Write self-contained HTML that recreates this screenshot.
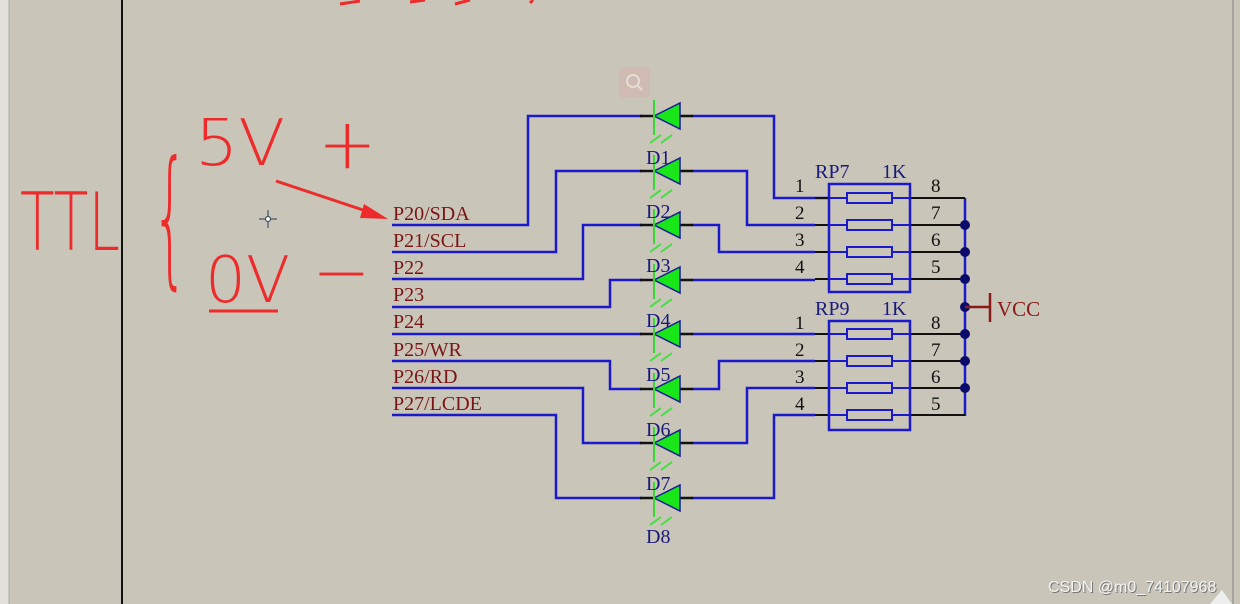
<!DOCTYPE html>
<html><head><meta charset="utf-8"><style>
html,body{margin:0;padding:0;width:1240px;height:604px;overflow:hidden;background:#c9c5b9}
svg{display:block}
</style></head><body>
<svg width="1240" height="604" viewBox="0 0 1240 604" xmlns="http://www.w3.org/2000/svg">
<defs>
<g id="d">
<line x1="640" y1="0" x2="656" y2="0" stroke="#111" stroke-width="2.5"/>
<line x1="679" y1="0" x2="693" y2="0" stroke="#111" stroke-width="2.5"/>
<polygon points="654,0 680,-13 680,13" fill="#19e619" stroke="#1a1a9a" stroke-width="1.5"/>
<line x1="654" y1="-16" x2="654" y2="19" stroke="#35d835" stroke-width="2"/>
<line x1="650" y1="27" x2="661" y2="19" stroke="#40e040" stroke-width="2"/>
<line x1="661" y1="27" x2="672" y2="19" stroke="#40e040" stroke-width="2"/>
</g>
<g id="r">
<line x1="815" y1="0" x2="965" y2="0" stroke="#111" stroke-width="2"/>
<line x1="828" y1="0" x2="910" y2="0" stroke="#1a1acc" stroke-width="2"/>
<rect x="847" y="-5" width="45" height="10" fill="#c9c5b9" stroke="#1a1acc" stroke-width="2"/>
</g>
</defs>
<rect x="0" y="0" width="9" height="604" fill="#e2e0da"/>
<line x1="9" y1="0" x2="9" y2="604" stroke="#aaa" stroke-width="1"/>
<line x1="122" y1="0" x2="122" y2="604" stroke="#111" stroke-width="2"/>
<line x1="1233" y1="0" x2="1233" y2="604" stroke="#999" stroke-width="1.5"/>

<!-- magnifier -->
<rect x="619" y="67" width="31" height="31" rx="4" fill="#d9aaa6" opacity="0.35"/>
<circle cx="633" cy="81" r="6" fill="none" stroke="#e6dcd8" stroke-width="2"/>
<line x1="637" y1="85" x2="642" y2="90" stroke="#e6dcd8" stroke-width="2"/>

<!-- wires -->
<g fill="none" stroke="#1a1acc" stroke-width="2.5">
<polyline points="392,225 528,225 528,116 642,116"/>
<polyline points="692,116 774,116 774,198 828,198"/>
<polyline points="392,252 556,252 556,171 642,171"/>
<polyline points="692,171 747,171 747,225 815,225"/>
<polyline points="392,279 583,279 583,225 642,225"/>
<polyline points="692,225 719,225 719,252 815,252"/>
<polyline points="392,307 610,307 610,280 642,280"/>
<polyline points="692,280 815,280"/>
<polyline points="392,334 642,334"/>
<polyline points="692,334 815,334"/>
<polyline points="392,361 610,361 610,389 642,389"/>
<polyline points="692,389 719,389 719,361 815,361"/>
<polyline points="392,388 583,388 583,443 642,443"/>
<polyline points="692,443 747,443 747,388 815,388"/>
<polyline points="392,415 556,415 556,498 642,498"/>
<polyline points="692,498 774,498 774,415 815,415"/>
<line x1="965" y1="198" x2="965" y2="416"/>
</g>

<use href="#d" y="116"/><use href="#d" y="171"/><use href="#d" y="225"/><use href="#d" y="280"/>
<use href="#d" y="334"/><use href="#d" y="389"/><use href="#d" y="443"/><use href="#d" y="498"/>

<g font-family="Liberation Serif, serif" font-size="20" fill="#1a1a7a">
<text x="646" y="164">D1</text><text x="646" y="218">D2</text><text x="646" y="272">D3</text>
<text x="646" y="327">D4</text><text x="646" y="381">D5</text><text x="646" y="436">D6</text>
<text x="646" y="490">D7</text><text x="646" y="543">D8</text>
</g>

<!-- resistor packs -->
<use href="#r" y="198"/><use href="#r" y="225"/><use href="#r" y="252"/><use href="#r" y="279"/>
<use href="#r" y="334"/><use href="#r" y="361"/><use href="#r" y="388"/><use href="#r" y="415"/>
<rect x="829" y="184" width="81" height="108" fill="none" stroke="#1a1acc" stroke-width="2.5"/>
<rect x="829" y="321" width="81" height="109" fill="none" stroke="#1a1acc" stroke-width="2.5"/>
<g fill="#0a0a6a">
<circle cx="965" cy="225" r="5"/><circle cx="965" cy="252" r="5"/><circle cx="965" cy="279" r="5"/>
<circle cx="965" cy="307" r="5"/><circle cx="965" cy="334" r="5"/><circle cx="965" cy="361" r="5"/>
<circle cx="965" cy="388" r="5"/>
</g>
<line x1="965" y1="307" x2="990" y2="307" stroke="#8a1a1a" stroke-width="2.5"/>
<line x1="990" y1="293" x2="990" y2="322" stroke="#8a1a1a" stroke-width="2.5"/>
<text x="997" y="316" font-family="Liberation Serif, serif" font-size="21" fill="#8a1a1a">VCC</text>

<g font-family="Liberation Serif, serif" font-size="20" fill="#1a1a7a">
<text x="815" y="178">RP7</text><text x="882" y="178">1K</text>
<text x="815" y="315">RP9</text><text x="882" y="315">1K</text>
</g>
<g font-family="Liberation Serif, serif" font-size="19" fill="#111">
<text x="795" y="192">1</text><text x="795" y="219">2</text><text x="795" y="246">3</text><text x="795" y="273">4</text>
<text x="931" y="192">8</text><text x="931" y="219">7</text><text x="931" y="246">6</text><text x="931" y="273">5</text>
<text x="795" y="329">1</text><text x="795" y="356">2</text><text x="795" y="383">3</text><text x="795" y="410">4</text>
<text x="931" y="329">8</text><text x="931" y="356">7</text><text x="931" y="383">6</text><text x="931" y="410">5</text>
</g>

<g font-family="Liberation Serif, serif" font-size="20" fill="#7a1515">
<text x="393" y="220">P20/SDA</text><text x="393" y="247">P21/SCL</text>
<text x="393" y="274">P22</text><text x="393" y="301">P23</text>
<text x="393" y="328">P24</text><text x="393" y="356">P25/WR</text>
<text x="393" y="383">P26/RD</text><text x="393" y="410">P27/LCDE</text>
</g>

<!-- handwriting -->
<g font-family="DejaVu Sans, sans-serif" fill="#ee2a2a" font-weight="200">
<text x="20" y="250" font-size="80" textLength="100" lengthAdjust="spacingAndGlyphs">TTL</text>
<text x="152" y="268" font-size="150" textLength="36" lengthAdjust="spacingAndGlyphs">{</text>
<text x="195" y="165" font-size="64" textLength="90" lengthAdjust="spacingAndGlyphs">5V</text>
<text x="318" y="168" font-size="70">+</text>
<text x="205" y="302" font-size="64" textLength="85" lengthAdjust="spacingAndGlyphs">0V</text>
<text x="312" y="296" font-size="70">−</text>
</g>
<line x1="209" y1="311" x2="278" y2="311" stroke="#ee2a2a" stroke-width="3"/>
<line x1="276" y1="181" x2="378" y2="215" stroke="#ee2a2a" stroke-width="3"/>
<polygon points="388,219 364,204 360,218" fill="#ee2a2a"/>
<path d="M340,4 L360,1 M410,2 L425,0 M455,4 L470,0 M530,3 L533,0" stroke="#ee2a2a" stroke-width="3"/>
<!-- cursor -->
<g stroke="#456" stroke-width="1.2" fill="none">
<line x1="259" y1="219" x2="277" y2="219"/><line x1="268" y1="210" x2="268" y2="228"/>
<circle cx="268" cy="219" r="2.5" fill="#fff"/>
</g>
<text x="1049" y="593" font-family="Liberation Sans, sans-serif" font-size="16" fill="#777">CSDN @m0_74107968</text>
<text x="1048" y="592" font-family="Liberation Sans, sans-serif" font-size="16" fill="#f4f4f4">CSDN @m0_74107968</text>
<polygon points="1210,604 1222,590 1232,604" fill="#eee"/>
</svg>
</body></html>
